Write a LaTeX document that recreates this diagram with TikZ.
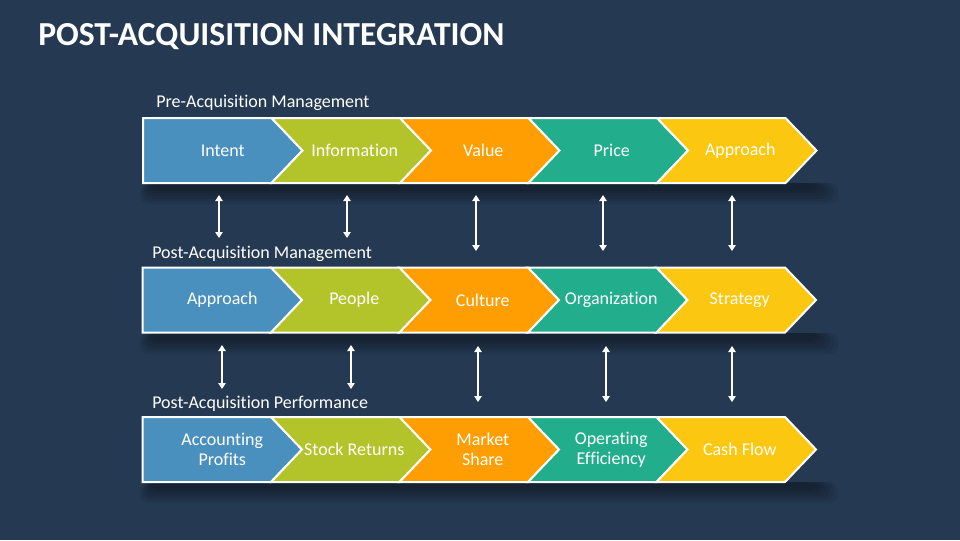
\documentclass[tikz,border=0pt]{standalone}
\usepackage{fontspec}
\setmainfont{Carlito}[Ligatures={NoCommon}]
\usetikzlibrary{arrows.meta}
\definecolor{bg}{RGB}{37,58,82}
\definecolor{cblue}{RGB}{74,144,190}
\definecolor{cgreen}{RGB}{178,196,42}
\definecolor{corange}{RGB}{254,158,2}
\definecolor{cteal}{RGB}{34,174,140}
\definecolor{cyellow}{RGB}{252,199,16}
\tikzset{
  chev/.style={draw=white, line width=1.5pt, line join=miter},
  boxtext/.style={text=white, align=center, font=\fontsize{13.5}{15}\selectfont},
  rowlabel/.style={text=white, anchor=base west, font=\fontsize{13.5}{15}\selectfont},
  dbl/.style={white, line width=1.6pt, {Triangle[width=5.5pt,length=4.5pt]}-{Triangle[width=5.5pt,length=4.5pt]}},
  shadowband/.style={fill=black, opacity=0.07}
}
\begin{document}
\begin{tikzpicture}[x=0.75pt,y=-0.75pt]
\fill[bg] (0,0) rectangle (960,540);
\useasboundingbox (0,0) rectangle (960,540);

% title
\node[anchor=base west, text=white, inner sep=0pt, font=\bfseries\fontsize{25.2}{28}\selectfont] (title) at (38,45) {POST-ACQUISITION INTEGRATION};

% shadows under rows
\foreach \B in {183,333,482} {
  \foreach \k in {0,...,5} {
    \fill[shadowband, rounded corners=6pt] (140+\k*2,\B) rectangle (838-\k*4,\B+21-\k*2.6);
  }
}

% row labels
\node[rowlabel, inner sep=0pt] (lab1) at (156,107) {Pre-Acquisition Management};
\node[rowlabel, inner sep=0pt] (lab2) at (152,258) {Post-Acquisition Management};
\node[rowlabel, inner sep=0pt] (lab3) at (152,408) {Post-Acquisition Performance};

% row 1
\foreach \i/\c/\t in {0/cblue/Intent,1/cgreen/Information,2/corange/Value,3/cteal/Price,4/cyellow/Approach} {
  \pgfmathsetmacro\L{143+128.5*\i}
  \pgfmathsetmacro\R{\L+128.5}
  \pgfmathsetmacro\N{\i==0 ? 0 : 31}
  \pgfmathsetmacro\S{\i==0 ? 0 : 3.5}
  \path[chev, fill=\c] (\L,118) -- (\R,118) -- (\R+31,150.5) -- (\R,183) -- (\L,183) -- (\L+\N,150.5) -- cycle;
  \node[boxtext] (p\i) at ({(\L+\R+31)/2+\S},150.5) {\t};
}

% row 2
\foreach \i/\c/\t in {0/cblue/Approach,1/cgreen/People,2/corange/Culture,3/cteal/Organization,4/cyellow/Strategy} {
  \pgfmathsetmacro\L{142.5+128.5*\i}
  \pgfmathsetmacro\R{\L+128.5}
  \pgfmathsetmacro\N{\i==0 ? 0 : 31}
  \pgfmathsetmacro\S{\i==0 ? 0 : 3.5}
  \path[chev, fill=\c] (\L,267.5) -- (\R,267.5) -- (\R+31,300) -- (\R,332.5) -- (\L,332.5) -- (\L+\N,300) -- cycle;
  \node[boxtext] (q\i) at ({(\L+\R+31)/2+\S},300) {\t};
}

% row 3
\foreach \i/\c/\t in {0/cblue/{Accounting\\Profits},1/cgreen/{Stock Returns},2/corange/{Market\\Share},3/cteal/{Operating\\Efficiency},4/cyellow/{Cash Flow}} {
  \pgfmathsetmacro\L{142.5+128.5*\i}
  \pgfmathsetmacro\R{\L+128.5}
  \pgfmathsetmacro\N{\i==0 ? 0 : 31}
  \pgfmathsetmacro\S{\i==0 ? 0 : 3.5}
  \path[chev, fill=\c] (\L,417) -- (\R,417) -- (\R+31,449.5) -- (\R,482) -- (\L,482) -- (\L+\N,449.5) -- cycle;
  \node[boxtext] (s\i) at ({(\L+\R+31)/2+\S},449.5) {\t};
}

% arrow end points between rows
\coordinate (a0t) at (219,195); \coordinate (a0b) at (219,238);
\coordinate (a1t) at (347,195); \coordinate (a1b) at (347,238);
\coordinate (a2t) at (476,195); \coordinate (a2b) at (476,251);
\coordinate (a3t) at (603,195); \coordinate (a3b) at (603,251);
\coordinate (a4t) at (732,195); \coordinate (a4b) at (732,251);
\coordinate (b0t) at (222,345); \coordinate (b0b) at (222,389);
\coordinate (b1t) at (351,345); \coordinate (b1b) at (351,389);
\coordinate (b2t) at (478,346); \coordinate (b2b) at (478,402);
\coordinate (b3t) at (606,346); \coordinate (b3b) at (606,402);
\coordinate (b4t) at (732,346); \coordinate (b4b) at (732,402);
\foreach \k in {0,...,4} {
  \draw[dbl] (a\k t) -- (a\k b);
  \draw[dbl] (b\k t) -- (b\k b);
}
\end{tikzpicture}
\end{document}
